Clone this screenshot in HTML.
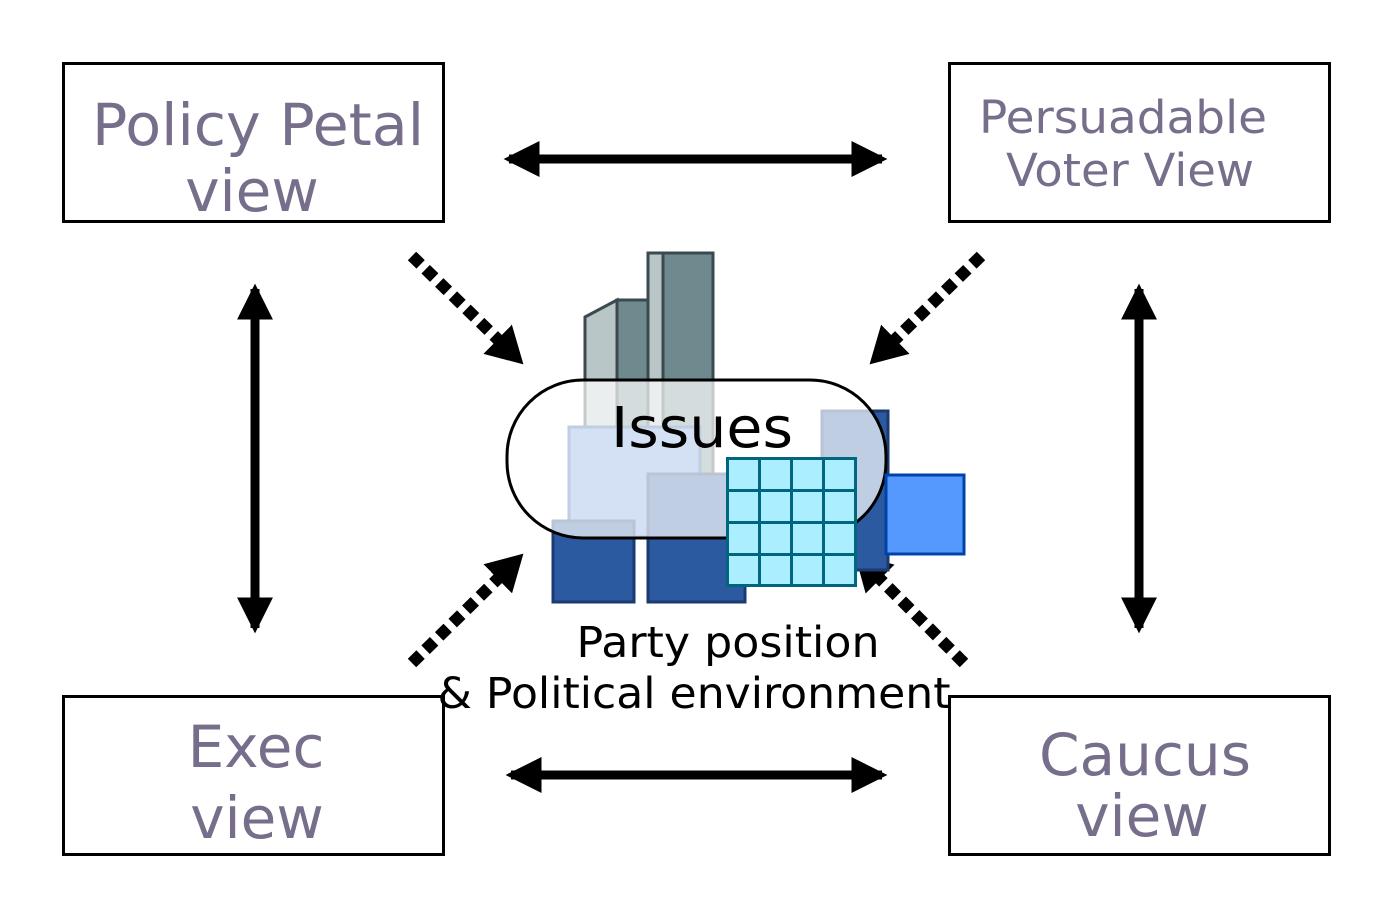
<!DOCTYPE html>
<html><head><meta charset="utf-8"><style>html,body{margin:0;padding:0;background:#fff}svg{display:block}</style></head>
<body>
<svg width="1400" height="918" viewBox="0 0 1400 918" xmlns="http://www.w3.org/2000/svg" font-family="'DejaVu Sans','Liberation Sans',sans-serif">
<defs>
<marker id="ah" markerWidth="4" markerHeight="4" refX="3.4" refY="2" orient="auto" markerUnits="strokeWidth" viewBox="0 0 4 4"><path d="M0,0 L4,2 L0,4 Z" fill="#000"/></marker>
<marker id="ahs" markerWidth="4" markerHeight="4" refX="0.6" refY="2" orient="auto" markerUnits="strokeWidth" viewBox="0 0 4 4"><path d="M4,0 L0,2 L4,4 Z" fill="#000"/></marker>
<marker id="ad" markerWidth="3" markerHeight="3.4" refX="2.6" refY="1.7" orient="auto" markerUnits="strokeWidth" viewBox="0 0 3 3.4"><path d="M0,0 L3,1.7 L0,3.4 Z" fill="#000"/></marker>
</defs>
<g fill="none" stroke="#000" stroke-width="3">
<rect x="63.5" y="63.5" width="380" height="158"/>
<rect x="949.5" y="63.5" width="380" height="158"/>
<rect x="63.5" y="696.5" width="380" height="158"/>
<rect x="949.5" y="696.5" width="380" height="158"/>
</g>
<g fill="#776e8c" text-anchor="middle">
<text x="258" y="145" font-size="58" textLength="332" lengthAdjust="spacingAndGlyphs">Policy Petal</text>
<text x="252" y="211" font-size="58">view</text>
<text x="1123" y="133" font-size="45" textLength="288" lengthAdjust="spacingAndGlyphs">Persuadable</text>
<text x="1130" y="186" font-size="45" textLength="248" lengthAdjust="spacingAndGlyphs">Voter View</text>
<text x="256" y="767" font-size="58">Exec</text>
<text x="257" y="838" font-size="58">view</text>
<text x="1145" y="775" font-size="58" textLength="212" lengthAdjust="spacingAndGlyphs">Caucus</text>
<text x="1142" y="836" font-size="58">view</text>
</g>
<g stroke="#000" stroke-width="9" fill="none">
<line x1="509" y1="159" x2="882" y2="159" marker-start="url(#ahs)" marker-end="url(#ah)"/>
<line x1="511" y1="775" x2="882" y2="775" marker-start="url(#ahs)" marker-end="url(#ah)"/>
<line x1="255" y1="289" x2="255" y2="628" marker-start="url(#ahs)" marker-end="url(#ah)"/>
<line x1="1139" y1="289" x2="1139" y2="628" marker-start="url(#ahs)" marker-end="url(#ah)"/>
</g>
<g stroke="#000" stroke-width="12" fill="none" stroke-dasharray="12,7">
<line x1="412" y1="256" x2="520" y2="361" marker-end="url(#ad)"/>
<line x1="981" y1="256" x2="873" y2="361" marker-end="url(#ad)"/>
<line x1="412" y1="663" x2="520" y2="557" marker-end="url(#ad)"/>
<line x1="964" y1="663" x2="858" y2="557" marker-end="url(#ad)"/>
</g>
<g stroke="#3a4a4e" stroke-width="3">
<rect x="648" y="253" width="65" height="225" fill="#6f8a8e"/>
<rect x="648" y="253" width="15" height="225" fill="#b8c6c8"/>
<rect x="617" y="300" width="31" height="178" fill="#6f8a8e"/>
<path d="M585,317 L617,300 L617,478 L585,478 Z" fill="#b8c6c8"/>
</g>
<rect x="569" y="427" width="131" height="110" fill="#6e98d8" stroke="#2c5aa0" stroke-width="3"/>
<rect x="822" y="411" width="66" height="159" fill="#2c5aa0" stroke="#1a3a70" stroke-width="3"/>
<rect x="553" y="521" width="81" height="81" fill="#2c5aa0" stroke="#1a3a70" stroke-width="3"/>
<rect x="648" y="474" width="97" height="128" fill="#2c5aa0" stroke="#1a3a70" stroke-width="3"/>
<rect x="507" y="380" width="379" height="158" rx="76" fill="#fff" fill-opacity="0.7" stroke="#000" stroke-width="3"/>
<rect x="886" y="475" width="78" height="79" fill="#5599ff" stroke="#0044aa" stroke-width="3"/>
<g stroke="#006680" stroke-width="3" fill="#aaeeff">
<rect x="727.5" y="458.5" width="128" height="127"/>
<path d="M759.5,458 V586 M791.5,458 V586 M823.5,458 V586 M727,490.5 H856 M727,522.5 H856 M727,554.5 H856" fill="none"/>
</g>
<text x="702" y="447" font-size="56" text-anchor="middle" fill="#000" textLength="182" lengthAdjust="spacingAndGlyphs">Issues</text>
<text x="728" y="657" font-size="43" text-anchor="middle" fill="#000" textLength="303" lengthAdjust="spacingAndGlyphs">Party position</text>
<text x="694" y="708" font-size="43" text-anchor="middle" fill="#000" textLength="513" lengthAdjust="spacingAndGlyphs">&amp; Political environment</text>
</svg>
</body></html>
